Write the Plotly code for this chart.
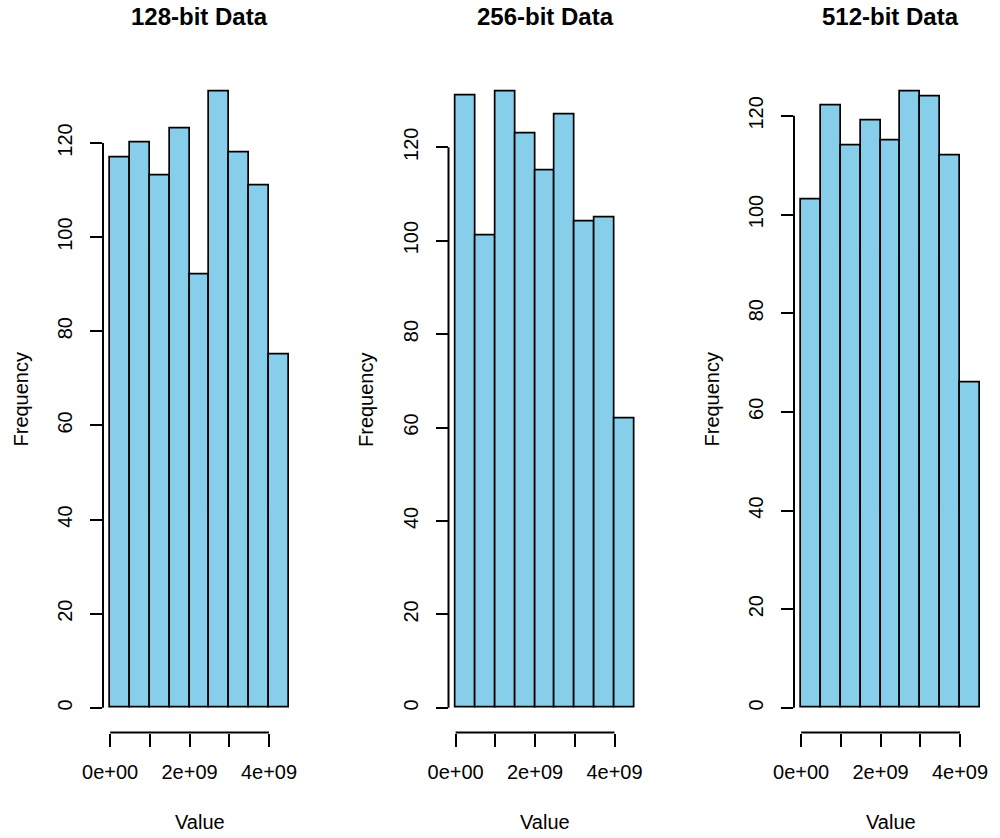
import plotly.graph_objects as go
from plotly.subplots import make_subplots

# histogram counts
panel_titles = ["128-bit Data", "256-bit Data", "512-bit Data"]
bin_edges = [0, 5e8, 1e9, 1.5e9, 2e9, 2.5e9, 3e9, 3.5e9, 4e9, 4.5e9]
counts_128 = [117, 120, 113, 123, 92, 131, 118, 111, 75]
counts_256 = [131, 101, 132, 123, 115, 127, 104, 105, 62]
counts_512 = [103, 122, 114, 119, 115, 125, 124, 112, 66]
x_tickvals = [0, 1e9, 2e9, 3e9, 4e9]
x_ticktext = ["0e+00", "", "2e+09", "", "4e+09"]
y_tickvals = [0, 20, 40, 60, 80, 100, 120]

FONT = "Liberation Sans, Arial, sans-serif"
W, H = 1000, 838

fig = make_subplots(rows=1, cols=3)

bin_lefts = bin_edges[:-1]
bin_widths = [b - a for a, b in zip(bin_edges[:-1], bin_edges[1:])]
all_counts = [counts_128, counts_256, counts_512]

for i, counts in enumerate(all_counts):
    fig.add_trace(go.Bar(
        x=bin_lefts, y=counts, width=bin_widths, offset=0,
        marker=dict(color="#87CEEB", line=dict(color="black", width=1.7)),
        hoverinfo="x+y", showlegend=False,
    ), row=1, col=i + 1)

# plot regions in pixels, like R's par(mfrow=c(1,3))
plot_w = 193
plot_top, plot_bottom = 66.5, 732.5
span_x = bin_edges[-1] - bin_edges[0]
y_dom = [(H - plot_bottom) / H, (H - plot_top) / H]


def to_paper(v, rng, dom):
    return dom[0] + (v - rng[0]) / (rng[1] - rng[0]) * (dom[1] - dom[0])


for i, title in enumerate(panel_titles):
    n = "" if i == 0 else str(i + 1)
    counts = all_counts[i]
    left = 103 + 345.5 * i
    ymax = max(counts)
    x_dom = [left / W, (left + plot_w) / W]
    x_rng = [bin_edges[0] - 0.04 * span_x, bin_edges[-1] + 0.04 * span_x]
    y_rng = [-0.04 * ymax, 1.04 * ymax]

    fig.layout["xaxis" + n].update(
        domain=x_dom, range=x_rng,
        tickvals=x_tickvals, ticktext=x_ticktext,
        ticks="outside", ticklen=13, tickwidth=2, tickcolor="black",
        tickfont=dict(size=20, family=FONT, color="black"),
        showline=False, showgrid=False, zeroline=False, automargin=False,
        ticklabelstandoff=8,
    )
    fig.layout["yaxis" + n].update(
        domain=y_dom, range=y_rng,
        tickvals=y_tickvals, tickangle=-90,
        ticks="outside", ticklen=12, tickwidth=2, tickcolor="black",
        tickfont=dict(size=20, family=FONT, color="black"),
        showline=False, showgrid=False, zeroline=False, automargin=False,
        ticklabelstandoff=10,
    )

    # R-style axis lines: only between the outer ticks
    fig.add_shape(type="line", xref="paper", yref="paper",
                  x0=x_dom[0], x1=x_dom[0],
                  y0=to_paper(y_tickvals[0], y_rng, y_dom),
                  y1=to_paper(y_tickvals[-1], y_rng, y_dom),
                  line=dict(color="black", width=2))
    fig.add_shape(type="line", xref="paper", yref="paper",
                  x0=to_paper(x_tickvals[0], x_rng, x_dom),
                  x1=to_paper(x_tickvals[-1], x_rng, x_dom),
                  y0=y_dom[0], y1=y_dom[0],
                  line=dict(color="black", width=2))

    fig.add_annotation(text="<b>" + title + "</b>", showarrow=False,
                       xref="x" + n + " domain", yref="y" + n + " domain",
                       x=0.5, y=1, yshift=50, xanchor="center", yanchor="middle",
                       font=dict(size=24, family=FONT, color="black"))
    fig.add_annotation(text="Value", showarrow=False,
                       xref="x" + n + " domain", yref="y" + n + " domain",
                       x=0.5, y=0, yshift=-89, xanchor="center", yanchor="middle",
                       font=dict(size=20, family=FONT, color="black"))
    fig.add_annotation(text="Frequency", showarrow=False, textangle=-90,
                       xref="x" + n + " domain", yref="y" + n + " domain",
                       x=0, y=0.5, xshift=-83, xanchor="center", yanchor="middle",
                       font=dict(size=20, family=FONT, color="black"))

fig.update_layout(
    width=W, height=H,
    margin=dict(l=0, r=0, t=0, b=0),
    paper_bgcolor="white", plot_bgcolor="white",
    bargap=0, showlegend=False,
    font=dict(family=FONT, color="black"),
)

# drop the browser's default 8px body margin so the page is exactly 1000x838
fig.write_html("out.html", config={"displayModeBar": False},
               post_script="document.body.style.margin='0';")
